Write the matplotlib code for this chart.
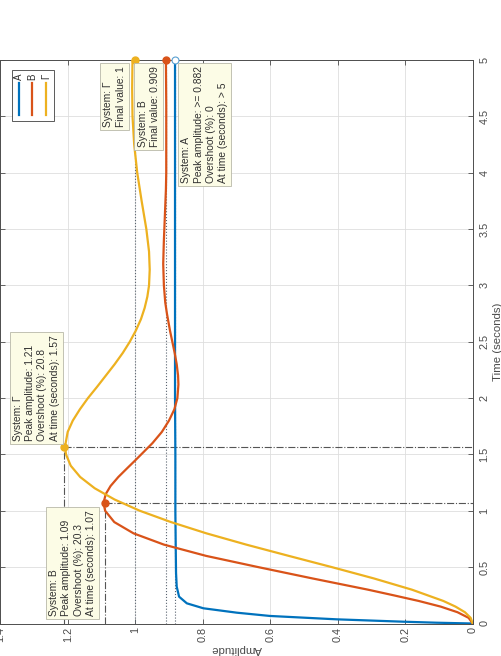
import numpy as np
import matplotlib
matplotlib.use("Agg")
import matplotlib.pyplot as plt
from matplotlib.patches import Rectangle

plt.rcParams['font.family'] = ['Liberation Sans', 'DejaVu Sans']

# ---------------- data ----------------
systems = ['A', 'B', 'Γ']
colors = ['#0072BD', '#D95319', '#EDB120']

time_A = [0, 0.007, 0.016, 0.037, 0.067, 0.096, 0.135, 0.179, 0.238, 0.327,
          0.45, 0.7, 1.0, 1.5, 2.0, 3.0, 4.0, 5.0]
amp_A = [0, 0.107, 0.206, 0.403, 0.601, 0.699, 0.798, 0.847, 0.870, 0.877,
         0.879, 0.880, 0.881, 0.881, 0.882, 0.882, 0.882, 0.882]

time_B = [0, 0.05, 0.1, 0.15, 0.2, 0.25, 0.3, 0.4, 0.5, 0.6, 0.7, 0.8, 0.9,
          1.0, 1.07, 1.15, 1.22, 1.3, 1.38, 1.45, 1.6, 1.7, 1.8, 1.9, 2.0,
          2.12, 2.2, 2.3, 2.4, 2.5, 2.6, 2.75, 2.85, 3.0, 3.19, 3.3, 3.4,
          3.55, 3.7, 3.85, 4.0, 4.3, 4.6, 5.0]
amp_B = [0, 0.012, 0.045, 0.095, 0.160, 0.234, 0.310, 0.475, 0.635, 0.790,
         0.915, 1.005, 1.062, 1.089, 1.094, 1.087, 1.073, 1.050, 1.023, 0.999,
         0.949, 0.921, 0.900, 0.884, 0.875, 0.872, 0.873, 0.877, 0.883, 0.890,
         0.897, 0.906, 0.911, 0.915, 0.917, 0.916, 0.915, 0.913, 0.911, 0.909,
         0.908, 0.908, 0.908, 0.909]

time_G = [0, 0.05, 0.1, 0.15, 0.2, 0.3, 0.4, 0.5, 0.6, 0.7, 0.8, 0.9, 1.0,
          1.1, 1.2, 1.3, 1.4, 1.5, 1.57, 1.7, 1.8, 1.9, 2.0, 2.1, 2.2, 2.3,
          2.4, 2.5, 2.6, 2.7, 2.8, 2.9, 3.0, 3.14, 3.3, 3.5, 3.75, 4.0, 4.25,
          4.5, 4.75, 5.0]
amp_G = [0, 0.006, 0.023, 0.051, 0.087, 0.180, 0.293, 0.417, 0.545, 0.671,
         0.789, 0.894, 0.986, 1.061, 1.120, 1.163, 1.191, 1.205, 1.208, 1.200,
         1.185, 1.164, 1.140, 1.113, 1.087, 1.061, 1.037, 1.016, 0.998, 0.983,
         0.972, 0.964, 0.959, 0.957, 0.959, 0.967, 0.981, 0.994, 1.003, 1.008,
         1.009, 1.008]

final_values = [0.882, 0.909, 1]
peak_amp = [0.882, 1.09, 1.21]
overshoot = [0, 20.3, 20.8]
peak_time = [5, 1.07, 1.57]

amp_ticks = [0, 0.2, 0.4, 0.6, 0.8, 1.0, 1.2, 1.4]
time_ticks = [0, 0.5, 1, 1.5, 2, 2.5, 3, 3.5, 4, 4.5, 5]

# ---------------- figure ----------------
W, H = 502, 656
fig = plt.figure(figsize=(W / 100, H / 100), dpi=100)
ax = fig.add_axes([0.2 / W, (H - 623.5) / H, 472.5 / W, 563.5 / H])

tcol = '#4a4a4a'
ax.set_xlim(amp_ticks[-1], amp_ticks[0])
ax.set_ylim(time_ticks[0], time_ticks[-1])

ax.set_xticks(amp_ticks, labels=['%g' % v for v in amp_ticks],
              rotation=90, ha='center', va='top')
ax.set_yticks(time_ticks, labels=['%g' % v for v in time_ticks],
              rotation=90, ha='left', va='center')
ax.yaxis.tick_right()
ax.tick_params(direction='in', length=3.6, width=0.6, colors=tcol,
               labelsize=7.8, top=True, bottom=True, left=True, right=True)
ax.tick_params(axis='x', pad=2.5)
ax.tick_params(axis='y', pad=5, labelleft=False, labelright=True)
for s in ax.spines.values():
    s.set_color('#4d4d4d')
    s.set_linewidth(0.7)

ax.grid(True, color='#dedede', lw=0.6)
ax.set_axisbelow(True)

ax.set_xlabel('Amplitude', rotation=180, va='center', ha='center',
              fontsize=8.2, color=tcol)
ax.xaxis.set_label_coords(0.5, -(648.5 - 623.5) / 563.5)
ax.set_ylabel('Time (seconds)', rotation=90, va='center', ha='center',
              fontsize=8.2, color=tcol)
ax.yaxis.set_label_position('right')
ax.yaxis.set_label_coords((493.0 - 0.2) / 472.5, 0.5)

# final-value dotted lines
for fv in final_values:
    ax.axvline(fv, color='#5a6470', ls=':', lw=0.8, zorder=1.5)

# peak dash-dot lines (B and Γ)
for i in (1, 2):
    ax.plot([peak_amp[i], peak_amp[i]], [0, peak_time[i]], color='#555555',
            ls='-.', lw=0.8, zorder=1.6)
    ax.plot([peak_amp[i], 0], [peak_time[i], peak_time[i]], color='#555555',
            ls='-.', lw=0.8, zorder=1.6)

# responses
for tt, aa, c in zip([time_A, time_B, time_G], [amp_A, amp_B, amp_G], colors):
    ax.plot(aa, tt, color=c, lw=1.6, zorder=3)

# peak markers
for i in (1, 2):
    ax.plot(peak_amp[i], peak_time[i], 'o', ms=5, color=colors[i], zorder=4,
            clip_on=False)
# final value markers at end of time axis
ax.plot(final_values[0], time_ticks[-1], 'o', ms=5, mfc='white',
        mec='#5a9fd0', mew=0.8, zorder=4, clip_on=False)
for i in (1, 2):
    ax.plot(final_values[i], time_ticks[-1], 'o', ms=5, color=colors[i],
            zorder=4, clip_on=False)

# data tips
box = dict(boxstyle='square,pad=0.3', fc='#fcfce6', ec='#b8b8a8', lw=0.6)
tip_kw = dict(textcoords='offset points', rotation=90, fontsize=7.4,
              linespacing=1.3, multialignment='left', color='#303030',
              bbox=box, annotation_clip=False, zorder=7)

ax.annotate('System: %s\nPeak amplitude: >= %g\nOvershoot (%%): %g\n'
            'At time (seconds): > %g' % (systems[0], peak_amp[0],
                                         overshoot[0], peak_time[0]),
            xy=(final_values[0], time_ticks[-1]), xytext=(4.4, -4.4),
            ha='left', va='top', **tip_kw)
ax.annotate('System: %s\nPeak amplitude: %g\nOvershoot (%%): %g\n'
            'At time (seconds): %g' % (systems[1], peak_amp[1],
                                       overshoot[1], peak_time[1]),
            xy=(peak_amp[1], peak_time[1]), xytext=(-6.4, -5.2),
            ha='right', va='top', **tip_kw)
ax.annotate('System: %s\nPeak amplitude: %g\nOvershoot (%%): %g\n'
            'At time (seconds): %g' % (systems[2], peak_amp[2],
                                       overshoot[2], peak_time[2]),
            xy=(peak_amp[2], peak_time[2]), xytext=(-3.2, 4.1),
            ha='right', va='bottom', **tip_kw)
ax.annotate('System: %s\nFinal value: %g' % (systems[1], final_values[1]),
            xy=(final_values[1], time_ticks[-1]), xytext=(-4.3, -4.4),
            ha='right', va='top', **tip_kw)
ax.annotate('System: %s\nFinal value: %g' % (systems[2], final_values[2]),
            xy=(final_values[2], time_ticks[-1]), xytext=(-6.7, -4.4),
            ha='right', va='top', **tip_kw)

# legend (rotated layout, drawn manually in axes fraction)
ax.add_patch(Rectangle((0.0250, 0.8917), 0.0889, 0.0905,
                       transform=ax.transAxes, fc='white', ec='#404040',
                       lw=0.6, zorder=8))
for fx, name, c in zip([0.0398, 0.0673, 0.0969], systems, colors):
    ax.plot([fx, fx], [0.9024, 0.9592], transform=ax.transAxes, color=c,
            lw=1.6, zorder=9, clip_on=False)
    ax.text(fx, 0.9705, name, rotation=90, ha='center', va='center',
            transform=ax.transAxes, fontsize=7, color='#303030', zorder=9)

fig.savefig('out.png', dpi=100)
